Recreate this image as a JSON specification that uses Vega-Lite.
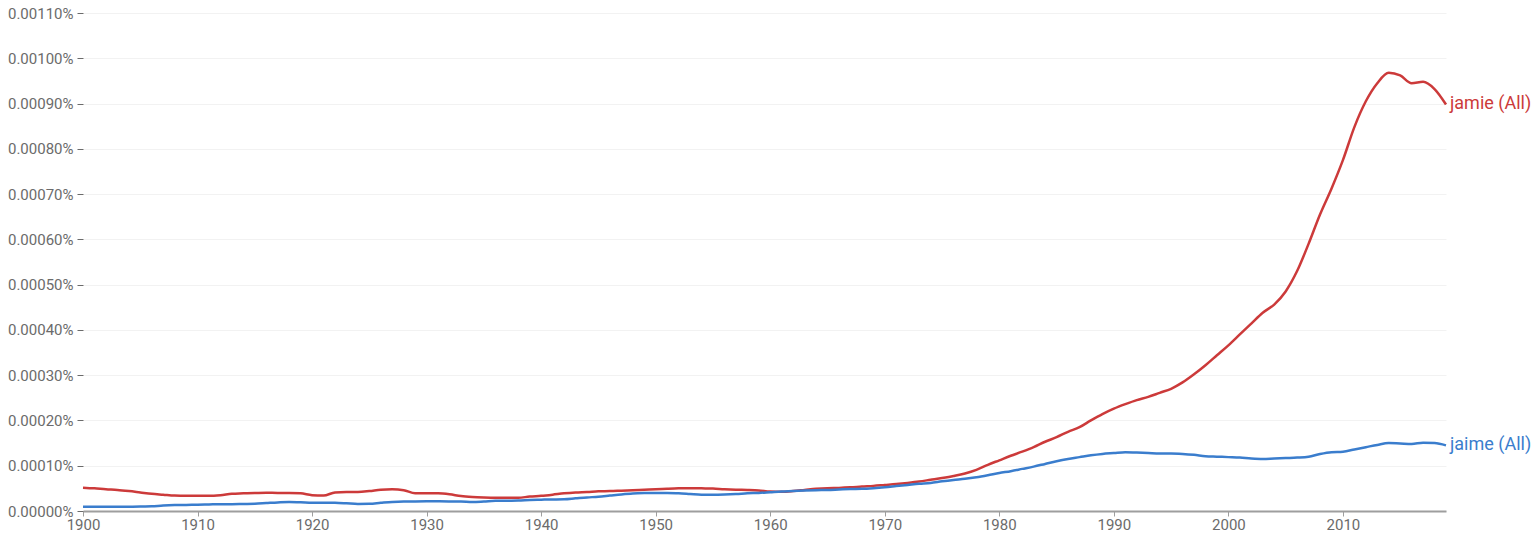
{
  "$schema": "https://vega.github.io/schema/vega-lite/v6.json",
  "width": 1363,
  "height": 498,
  "autosize": {"type": "none"},
  "padding": {"left": 83, "top": 13, "right": 90, "bottom": 26},
  "background": "white",
  "config": {"view": {"stroke": null}, "font": "Roboto"},
  "data": {"values": [
    {"year":1900,"jamie":0.0000515,"jaime":0.0000096},
    {"year":1901,"jamie":0.000050,"jaime":0.0000095},
    {"year":1902,"jamie":0.000048,"jaime":0.0000094},
    {"year":1903,"jamie":0.0000465,"jaime":0.0000095},
    {"year":1904,"jamie":0.000044,"jaime":0.0000096},
    {"year":1905,"jamie":0.000041,"jaime":0.0000097},
    {"year":1906,"jamie":0.000038,"jaime":0.0000105},
    {"year":1907,"jamie":0.000036,"jaime":0.000012},
    {"year":1908,"jamie":0.000034,"jaime":0.000013},
    {"year":1909,"jamie":0.0000335,"jaime":0.0000135},
    {"year":1910,"jamie":0.0000335,"jaime":0.000014},
    {"year":1911,"jamie":0.0000335,"jaime":0.0000145},
    {"year":1912,"jamie":0.000035,"jaime":0.000015},
    {"year":1913,"jamie":0.000038,"jaime":0.000015},
    {"year":1914,"jamie":0.000039,"jaime":0.0000155},
    {"year":1915,"jamie":0.000040,"jaime":0.000016},
    {"year":1916,"jamie":0.0000405,"jaime":0.0000175},
    {"year":1917,"jamie":0.000040,"jaime":0.000019},
    {"year":1918,"jamie":0.000040,"jaime":0.00002},
    {"year":1919,"jamie":0.000039,"jaime":0.0000195},
    {"year":1920,"jamie":0.000035,"jaime":0.0000185},
    {"year":1921,"jamie":0.000034,"jaime":0.0000185},
    {"year":1922,"jamie":0.000041,"jaime":0.0000182},
    {"year":1923,"jamie":0.000042,"jaime":0.000017},
    {"year":1924,"jamie":0.000042,"jaime":0.0000155},
    {"year":1925,"jamie":0.000044,"jaime":0.0000158},
    {"year":1926,"jamie":0.000047,"jaime":0.000018},
    {"year":1927,"jamie":0.000048,"jaime":0.00002},
    {"year":1928,"jamie":0.000046,"jaime":0.000021},
    {"year":1929,"jamie":0.000039,"jaime":0.0000212},
    {"year":1930,"jamie":0.000039,"jaime":0.0000213},
    {"year":1931,"jamie":0.000039,"jaime":0.0000213},
    {"year":1932,"jamie":0.000037,"jaime":0.0000212},
    {"year":1933,"jamie":0.000033,"jaime":0.000021},
    {"year":1934,"jamie":0.000031,"jaime":0.0000199},
    {"year":1935,"jamie":0.000030,"jaime":0.000021},
    {"year":1936,"jamie":0.0000295,"jaime":0.0000225},
    {"year":1937,"jamie":0.0000295,"jaime":0.0000228},
    {"year":1938,"jamie":0.000029,"jaime":0.000023},
    {"year":1939,"jamie":0.000032,"jaime":0.0000245},
    {"year":1940,"jamie":0.0000335,"jaime":0.000025},
    {"year":1941,"jamie":0.000036,"jaime":0.0000255},
    {"year":1942,"jamie":0.000039,"jaime":0.000026},
    {"year":1943,"jamie":0.000041,"jaime":0.000028},
    {"year":1944,"jamie":0.000042,"jaime":0.00003},
    {"year":1945,"jamie":0.0000435,"jaime":0.0000315},
    {"year":1946,"jamie":0.000044,"jaime":0.000034},
    {"year":1947,"jamie":0.000045,"jaime":0.0000365},
    {"year":1948,"jamie":0.000046,"jaime":0.0000385},
    {"year":1949,"jamie":0.000047,"jaime":0.0000395},
    {"year":1950,"jamie":0.0000478,"jaime":0.00004},
    {"year":1951,"jamie":0.000049,"jaime":0.00004},
    {"year":1952,"jamie":0.00005,"jaime":0.000039},
    {"year":1953,"jamie":0.0000505,"jaime":0.0000375},
    {"year":1954,"jamie":0.00005,"jaime":0.000036},
    {"year":1955,"jamie":0.0000495,"jaime":0.000036},
    {"year":1956,"jamie":0.000048,"jaime":0.0000365},
    {"year":1957,"jamie":0.000047,"jaime":0.0000375},
    {"year":1958,"jamie":0.0000465,"jaime":0.000039},
    {"year":1959,"jamie":0.0000455,"jaime":0.00004},
    {"year":1960,"jamie":0.000043,"jaime":0.0000415},
    {"year":1961,"jamie":0.0000425,"jaime":0.000043},
    {"year":1962,"jamie":0.000044,"jaime":0.000044},
    {"year":1963,"jamie":0.0000465,"jaime":0.0000452},
    {"year":1964,"jamie":0.000049,"jaime":0.000046},
    {"year":1965,"jamie":0.0000505,"jaime":0.0000465},
    {"year":1966,"jamie":0.000051,"jaime":0.0000475},
    {"year":1967,"jamie":0.0000522,"jaime":0.0000485},
    {"year":1968,"jamie":0.000054,"jaime":0.000049},
    {"year":1969,"jamie":0.0000555,"jaime":0.0000505},
    {"year":1970,"jamie":0.0000575,"jaime":0.0000525},
    {"year":1971,"jamie":0.0000595,"jaime":0.000055},
    {"year":1972,"jamie":0.000062,"jaime":0.0000575},
    {"year":1973,"jamie":0.000065,"jaime":0.00006},
    {"year":1974,"jamie":0.000069,"jaime":0.000062},
    {"year":1975,"jamie":0.000073,"jaime":0.0000655},
    {"year":1976,"jamie":0.0000775,"jaime":0.0000685},
    {"year":1977,"jamie":0.000083,"jaime":0.000071},
    {"year":1978,"jamie":0.000091,"jaime":0.0000745},
    {"year":1979,"jamie":0.000102,"jaime":0.000079},
    {"year":1980,"jamie":0.000112,"jaime":0.000084},
    {"year":1981,"jamie":0.000122,"jaime":0.000088},
    {"year":1982,"jamie":0.000131,"jaime":0.000093},
    {"year":1983,"jamie":0.000141,"jaime":0.000098},
    {"year":1984,"jamie":0.000153,"jaime":0.000104},
    {"year":1985,"jamie":0.000163,"jaime":0.00011},
    {"year":1986,"jamie":0.000175,"jaime":0.000115},
    {"year":1987,"jamie":0.000185,"jaime":0.000119},
    {"year":1988,"jamie":0.0002,"jaime":0.000123},
    {"year":1989,"jamie":0.000214,"jaime":0.000126},
    {"year":1990,"jamie":0.000226,"jaime":0.000128},
    {"year":1991,"jamie":0.000236,"jaime":0.00013},
    {"year":1992,"jamie":0.000245,"jaime":0.000129},
    {"year":1993,"jamie":0.000252,"jaime":0.000128},
    {"year":1994,"jamie":0.000261,"jaime":0.000127},
    {"year":1995,"jamie":0.00027,"jaime":0.000127},
    {"year":1996,"jamie":0.000284,"jaime":0.000126},
    {"year":1997,"jamie":0.000302,"jaime":0.000124},
    {"year":1998,"jamie":0.000322,"jaime":0.000121},
    {"year":1999,"jamie":0.000344,"jaime":0.00012},
    {"year":2000,"jamie":0.000366,"jaime":0.000119},
    {"year":2001,"jamie":0.00039,"jaime":0.000118},
    {"year":2002,"jamie":0.000414,"jaime":0.000116},
    {"year":2003,"jamie":0.000438,"jaime":0.000115},
    {"year":2004,"jamie":0.000456,"jaime":0.000116},
    {"year":2005,"jamie":0.000485,"jaime":0.000117},
    {"year":2006,"jamie":0.00053,"jaime":0.000118},
    {"year":2007,"jamie":0.00059,"jaime":0.00012},
    {"year":2008,"jamie":0.000655,"jaime":0.000126},
    {"year":2009,"jamie":0.000712,"jaime":0.00013},
    {"year":2010,"jamie":0.000775,"jaime":0.000131},
    {"year":2011,"jamie":0.000848,"jaime":0.000136},
    {"year":2012,"jamie":0.000905,"jaime":0.000141},
    {"year":2013,"jamie":0.000945,"jaime":0.000146},
    {"year":2014,"jamie":0.000968,"jaime":0.00015},
    {"year":2015,"jamie":0.000962,"jaime":0.000149},
    {"year":2016,"jamie":0.000945,"jaime":0.000148},
    {"year":2017,"jamie":0.000948,"jaime":0.000151},
    {"year":2018,"jamie":0.000932,"jaime":0.00015},
    {"year":2019,"jamie":0.000898,"jaime":0.000145}
  ]},
  "transform": [{"fold": ["jamie", "jaime"], "as": ["term", "value"]}],
  "encoding": {
    "x": {
      "field": "year", "type": "quantitative",
      "scale": {"domain": [1900, 2019], "nice": false, "zero": false},
      "axis": {
        "values": [1900,1910,1920,1930,1940,1950,1960,1970,1980,1990,2000,2010],
        "format": "d", "title": null, "grid": false,
        "domainColor": "#9e9e9e", "domainWidth": 2,
        "tickColor": "#9e9e9e", "tickSize": 5, "tickWidth": 1,
        "labelColor": "#6b6b6b", "labelFontSize": 15, "labelFont": "Roboto",
        "labelPadding": 1, "labelFlush": false
      }
    },
    "y": {
      "field": "value", "type": "quantitative",
      "scale": {"domain": [0, 0.0011], "nice": false},
      "axis": {
        "values": [0,0.0001,0.0002,0.0003,0.0004,0.0005,0.0006,0.0007,0.0008,0.0009,0.001,0.0011],
        "labelExpr": "format(datum.value, '.5f') + '%'",
        "title": null, "domain": false,
        "grid": true, "gridColor": "#f2f2f2", "gridWidth": 1,
        "tickColor": "#6b6b6b", "tickSize": 6, "tickWidth": 1,
        "labelColor": "#6b6b6b", "labelFontSize": 15, "labelFont": "Roboto",
        "labelPadding": 4
      }
    },
    "color": {
      "field": "term", "type": "nominal",
      "scale": {"domain": ["jamie", "jaime"], "range": ["#cc3a3a", "#3a7dcd"]},
      "legend": null
    }
  },
  "layer": [
    {"mark": {"type": "line", "strokeWidth": 2.5, "interpolate": "monotone"}},
    {
      "transform": [
        {"filter": "datum.year == 2019"},
        {"calculate": "datum.term + ' (All)'", "as": "label"}
      ],
      "mark": {"type": "text", "align": "left", "baseline": "middle", "dx": 4, "fontSize": 18, "font": "Roboto"},
      "encoding": {
        "text": {"field": "label"}
      }
    }
  ]
}
